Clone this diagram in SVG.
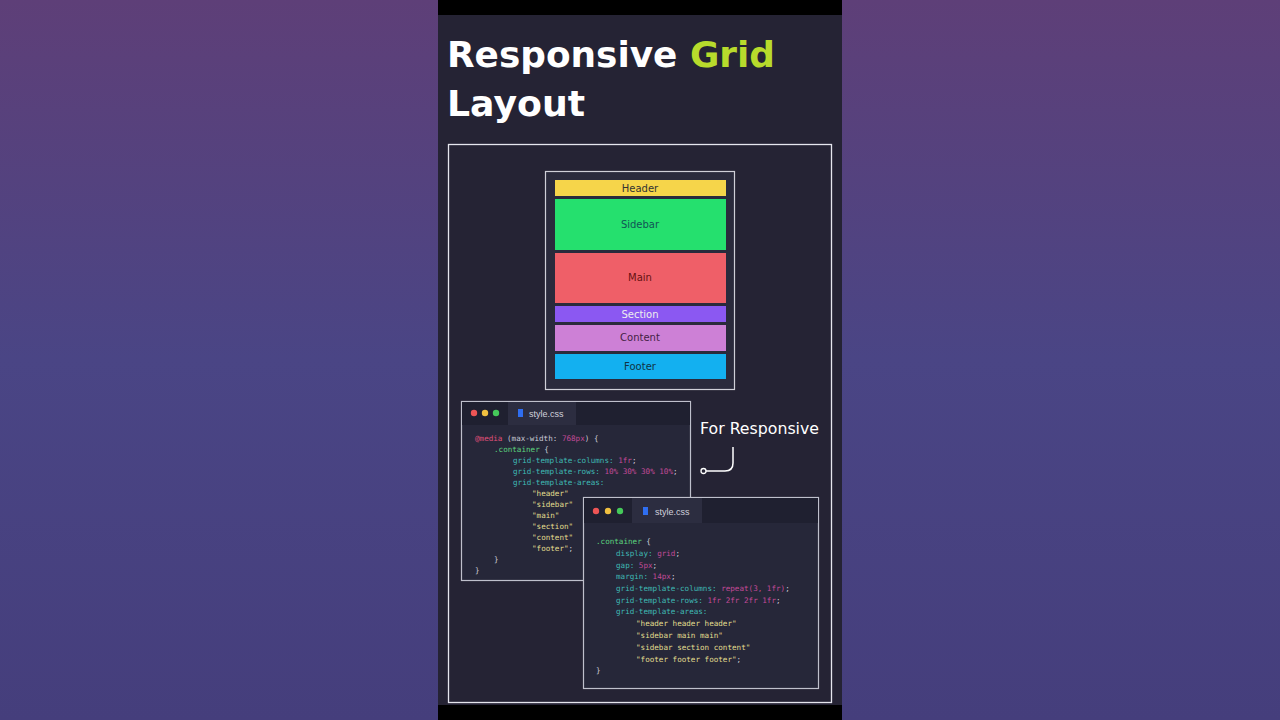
<svg xmlns="http://www.w3.org/2000/svg" width="1280" height="720" viewBox="0 0 1280 720">
<defs>
<linearGradient id="bg" x1="0" y1="0" x2="0" y2="1"><stop offset="0" stop-color="#5e3f78"/><stop offset="0.5" stop-color="#4a4585"/><stop offset="1" stop-color="#453e7c"/></linearGradient>
<style>
.code{font-family:"DejaVu Sans Mono",monospace;font-size:7.6px}
.p{fill:#3fb9b4}.g{fill:#5cd37e}.m{fill:#c24a98}.s{fill:#e2de8f}.w{fill:#c9c9d6}.r{fill:#e0507a}
.lbl{font-family:"DejaVu Sans",sans-serif;font-size:10px;text-anchor:middle}
.win{fill:#262739;stroke:#bfc0cc;stroke-width:1.2}
.tt{font-family:"Liberation Sans",sans-serif;font-size:9px;fill:#d0d0dc}
.title{font-family:"DejaVu Sans",sans-serif;font-weight:bold;font-size:35px;fill:#fff}
</style>
</defs>
<rect width="1280" height="720" fill="url(#bg)"/>
<rect x="438" y="0" width="404" height="720" fill="#252334"/>
<rect x="438" y="0" width="404" height="15" fill="#000"/>
<rect x="438" y="705" width="404" height="15" fill="#000"/>
<text class="title" x="447" y="67" textLength="328" lengthAdjust="spacingAndGlyphs">Responsive <tspan fill="#b8db2c">Grid</tspan></text>
<text class="title" x="447" y="116" textLength="138" lengthAdjust="spacingAndGlyphs">Layout</text>
<rect x="448.5" y="144.5" width="383" height="558" fill="none" stroke="#e6e6ee" stroke-width="1.3"/>
<g id="grid">
<rect x="545.5" y="171.5" width="189" height="218" fill="#2a2a3c" stroke="#cfcfd8" stroke-width="1.2"/>
<rect x="555" y="180" width="171" height="16" fill="#f6d54a"/><text class="lbl" x="640" y="192" fill="#333">Header</text>
<rect x="555" y="199" width="171" height="51" fill="#25e06e"/><text class="lbl" x="640" y="228" fill="#155">Sidebar</text>
<rect x="555" y="253" width="171" height="50" fill="#ef5f68"/><text class="lbl" x="640" y="281" fill="#611">Main</text>
<rect x="555" y="306" width="171" height="16" fill="#8b58f2"/><text class="lbl" x="640" y="318" fill="#eee">Section</text>
<rect x="555" y="325" width="171" height="26" fill="#cd80d6"/><text class="lbl" x="640" y="341" fill="#424">Content</text>
<rect x="555" y="354" width="171" height="25" fill="#13b0f0"/><text class="lbl" x="640" y="370" fill="#134">Footer</text>
</g>
<g id="code1">
<rect class="win" x="461.5" y="401.5" width="229" height="179"/>
<rect x="462" y="402" width="228" height="23" fill="#1f2030"/>
<rect x="508" y="402" width="68" height="23" fill="#2c2d40"/>
<circle cx="474" cy="413" r="3.2" fill="#ee5555"/><circle cx="485" cy="413" r="3.2" fill="#f0c040"/><circle cx="496" cy="413" r="3.2" fill="#45c95a"/>
<rect x="518" y="409" width="5" height="8" fill="#2f6ef0"/><text class="tt" x="529" y="417">style.css</text>
<text class="code" y="441"><tspan x="475" class="r">@media</tspan><tspan class="w"> (max-width: </tspan><tspan class="m">768px</tspan><tspan class="w">) {</tspan></text>
<text class="code g" x="494" y="452">.container <tspan class="w">{</tspan></text>
<text class="code p" x="513" y="463">grid-template-columns: <tspan class="m">1fr</tspan><tspan class="w">;</tspan></text>
<text class="code p" x="513" y="474">grid-template-rows: <tspan class="m">10% 30% 30% 10%</tspan><tspan class="w">;</tspan></text>
<text class="code p" x="513" y="485">grid-template-areas:</text>
<text class="code s" x="532" y="496">"header"</text>
<text class="code s" x="532" y="507">"sidebar"</text>
<text class="code s" x="532" y="518">"main"</text>
<text class="code s" x="532" y="529">"section"</text>
<text class="code s" x="532" y="540">"content"</text>
<text class="code s" x="532" y="551">"footer"<tspan class="w">;</tspan></text>
<text class="code w" x="494" y="562">}</text>
<text class="code w" x="475" y="573">}</text>
</g>
<g id="note">
<text x="700" y="434" font-family="DejaVu Sans, sans-serif" font-size="15" fill="#fff" textLength="119" lengthAdjust="spacingAndGlyphs">For Responsive</text>
</g>
<g id="connectors">
<path d="M733 447 V463 Q733 471 725 471 H706" fill="none" stroke="#fff" stroke-width="1.5"/>
<circle cx="703.5" cy="471" r="2.5" fill="#252334" stroke="#fff" stroke-width="1.3"/>
</g>
<g id="code2">
<rect class="win" x="583.5" y="497.5" width="235" height="191"/>
<rect x="584" y="498" width="234" height="25" fill="#1f2030"/>
<rect x="632" y="498" width="70" height="25" fill="#2c2d40"/>
<circle cx="596" cy="511" r="3.2" fill="#ee5555"/><circle cx="608" cy="511" r="3.2" fill="#f0c040"/><circle cx="620" cy="511" r="3.2" fill="#45c95a"/>
<rect x="643" y="507" width="5" height="8" fill="#2f6ef0"/><text class="tt" x="655" y="515">style.css</text>
<text class="code g" x="596" y="544">.container <tspan class="w">{</tspan></text>
<text class="code p" x="616" y="556">display: <tspan class="m">grid</tspan><tspan class="w">;</tspan></text>
<text class="code p" x="616" y="568">gap: <tspan class="m">5px</tspan><tspan class="w">;</tspan></text>
<text class="code p" x="616" y="579">margin: <tspan class="m">14px</tspan><tspan class="w">;</tspan></text>
<text class="code p" x="616" y="591">grid-template-columns: <tspan class="m">repeat(3, 1fr)</tspan><tspan class="w">;</tspan></text>
<text class="code p" x="616" y="603">grid-template-rows: <tspan class="m">1fr 2fr 2fr 1fr</tspan><tspan class="w">;</tspan></text>
<text class="code p" x="616" y="614">grid-template-areas:</text>
<text class="code s" x="636" y="626">"header header header"</text>
<text class="code s" x="636" y="638">"sidebar main main"</text>
<text class="code s" x="636" y="650">"sidebar section content"</text>
<text class="code s" x="636" y="662">"footer footer footer"<tspan class="w">;</tspan></text>
<text class="code w" x="596" y="673">}</text>
</g>
</svg>
